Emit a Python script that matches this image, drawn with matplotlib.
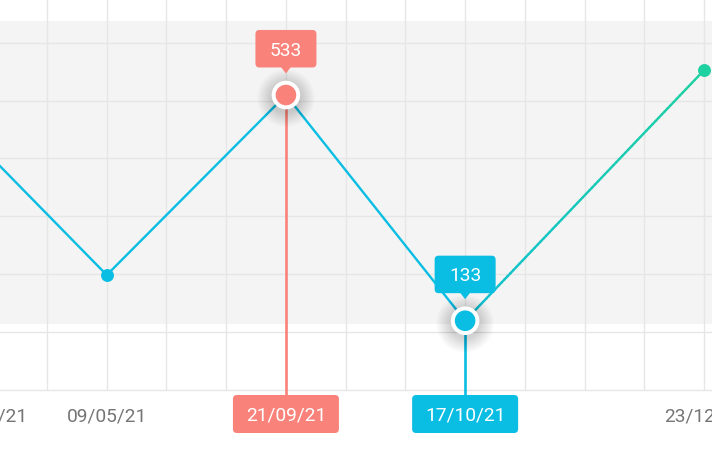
import numpy as np
import matplotlib.pyplot as plt
import matplotlib.transforms as mtransforms
from matplotlib.collections import LineCollection
from matplotlib.colors import LinearSegmentedColormap
from matplotlib.patches import FancyBboxPatch, Polygon, Circle

plt.rcParams["font.family"] = ["Roboto", "DejaVu Sans"]

# data (x = category slot on the time axis)
slots = [-1, 1, 4, 7, 11]
dates = ["14/03/21", "09/05/21", "21/09/21", "17/10/21", "23/12/21"]
values = [430, 214, 533, 133, 577]
highlighted = [2, 3]
band = (127, 664)
grid_levels = [10.2, 113, 216, 318.5, 421, 523, 626]

BLUE = "#0abde3"
RED = "#f9837b"
GREEN = "#1dd1a1"
GRID = "#e6e6e6"
FS = 13.8
label_y = -32.3  # centre of the date labels, in value units

fig = plt.figure(figsize=(7.12, 4.61), dpi=100)
ax = fig.add_axes([0, 0, 1, 1])
ax.set_xlim(-0.787, 11.133)
ax.set_ylim(-115.6, 701.4)
ax.axis("off")

# background band + grid
ax.axhspan(*band, color="#f4f4f4", lw=0, zorder=0)
ax.hlines(grid_levels, -2, 13, color=GRID, lw=1, zorder=1)
ax.vlines(range(-1, 13), grid_levels[0], 800, color=GRID, lw=1, zorder=1)


def px(x, y):
    # pixel-sized drawing anchored on a data point
    return mtransforms.Affine2D() + mtransforms.ScaledTranslation(x, y, ax.transData)


def tag(x, y, text, color, w, h, dy=0, pointer=False):
    tr = px(x, y)
    ax.add_patch(FancyBboxPatch((-w/2, dy - h/2), w, h,
                                boxstyle="round,pad=0,rounding_size=4",
                                fc=color, ec="none", transform=tr, zorder=8))
    if pointer:
        b = dy - h/2 + 0.5
        ax.add_patch(Polygon([(-5, b), (5, b), (0, b - 6.5)], closed=True,
                             fc=color, ec="none", transform=tr, zorder=8))
    ax.text(0, dy - 6.8, text, transform=tr, ha="center", va="baseline",
            color="white", fontsize=FS, zorder=9)


# main line: blue part, then blue->green gradient for the last segment
ax.plot(slots[:4], values[:4], color=BLUE, lw=1.7, zorder=3,
        solid_joinstyle="round", solid_capstyle="round")
t = np.linspace(0, 1, 80)
xs = slots[3] + t * (slots[4] - slots[3])
ys = values[3] + t * (values[4] - values[3])
pts = np.column_stack([xs, ys]).reshape(-1, 1, 2)
segs = np.concatenate([pts[:-1], pts[1:]], axis=1)
lc = LineCollection(segs, cmap=LinearSegmentedColormap.from_list("bg", ["#10c0d2", GREEN]),
                    lw=1.7, zorder=3, capstyle="round")
lc.set_array(t[:-1])
ax.add_collection(lc)

# plain points
for i in range(len(slots)):
    if i in highlighted:
        continue
    c = GREEN if i == len(slots) - 1 else BLUE
    ax.plot(slots[i], values[i], "o", ms=9.3, color=c, mec="none", zorder=4)
    ax.text(slots[i], -46, dates[i], ha="center", va="baseline",
            color="#757575", fontsize=FS)

# highlighted points with tooltips
for i in highlighted:
    x, v = slots[i], values[i]
    c = RED if i == 2 else BLUE
    ax.vlines(x, label_y, v, color=c, lw=1.9, zorder=5)
    tr = px(x, v)
    for r in np.arange(15, 30, 1.0):
        ax.add_patch(Circle((0, -3), r, fc="black", ec="none", alpha=0.012,
                            transform=tr, zorder=5))
    ax.add_patch(Circle((0, 0), 14.3, fc="white", ec="none", transform=tr, zorder=6))
    ax.add_patch(Circle((0, 0), 10.3, fc=c, ec="none", transform=tr, zorder=7))
    tag(x, v, str(v), c, 61, 37.5, dy=46.3, pointer=True)
    tag(x, label_y, dates[i], c, 106, 38)

fig.savefig("out.png", dpi=100)
